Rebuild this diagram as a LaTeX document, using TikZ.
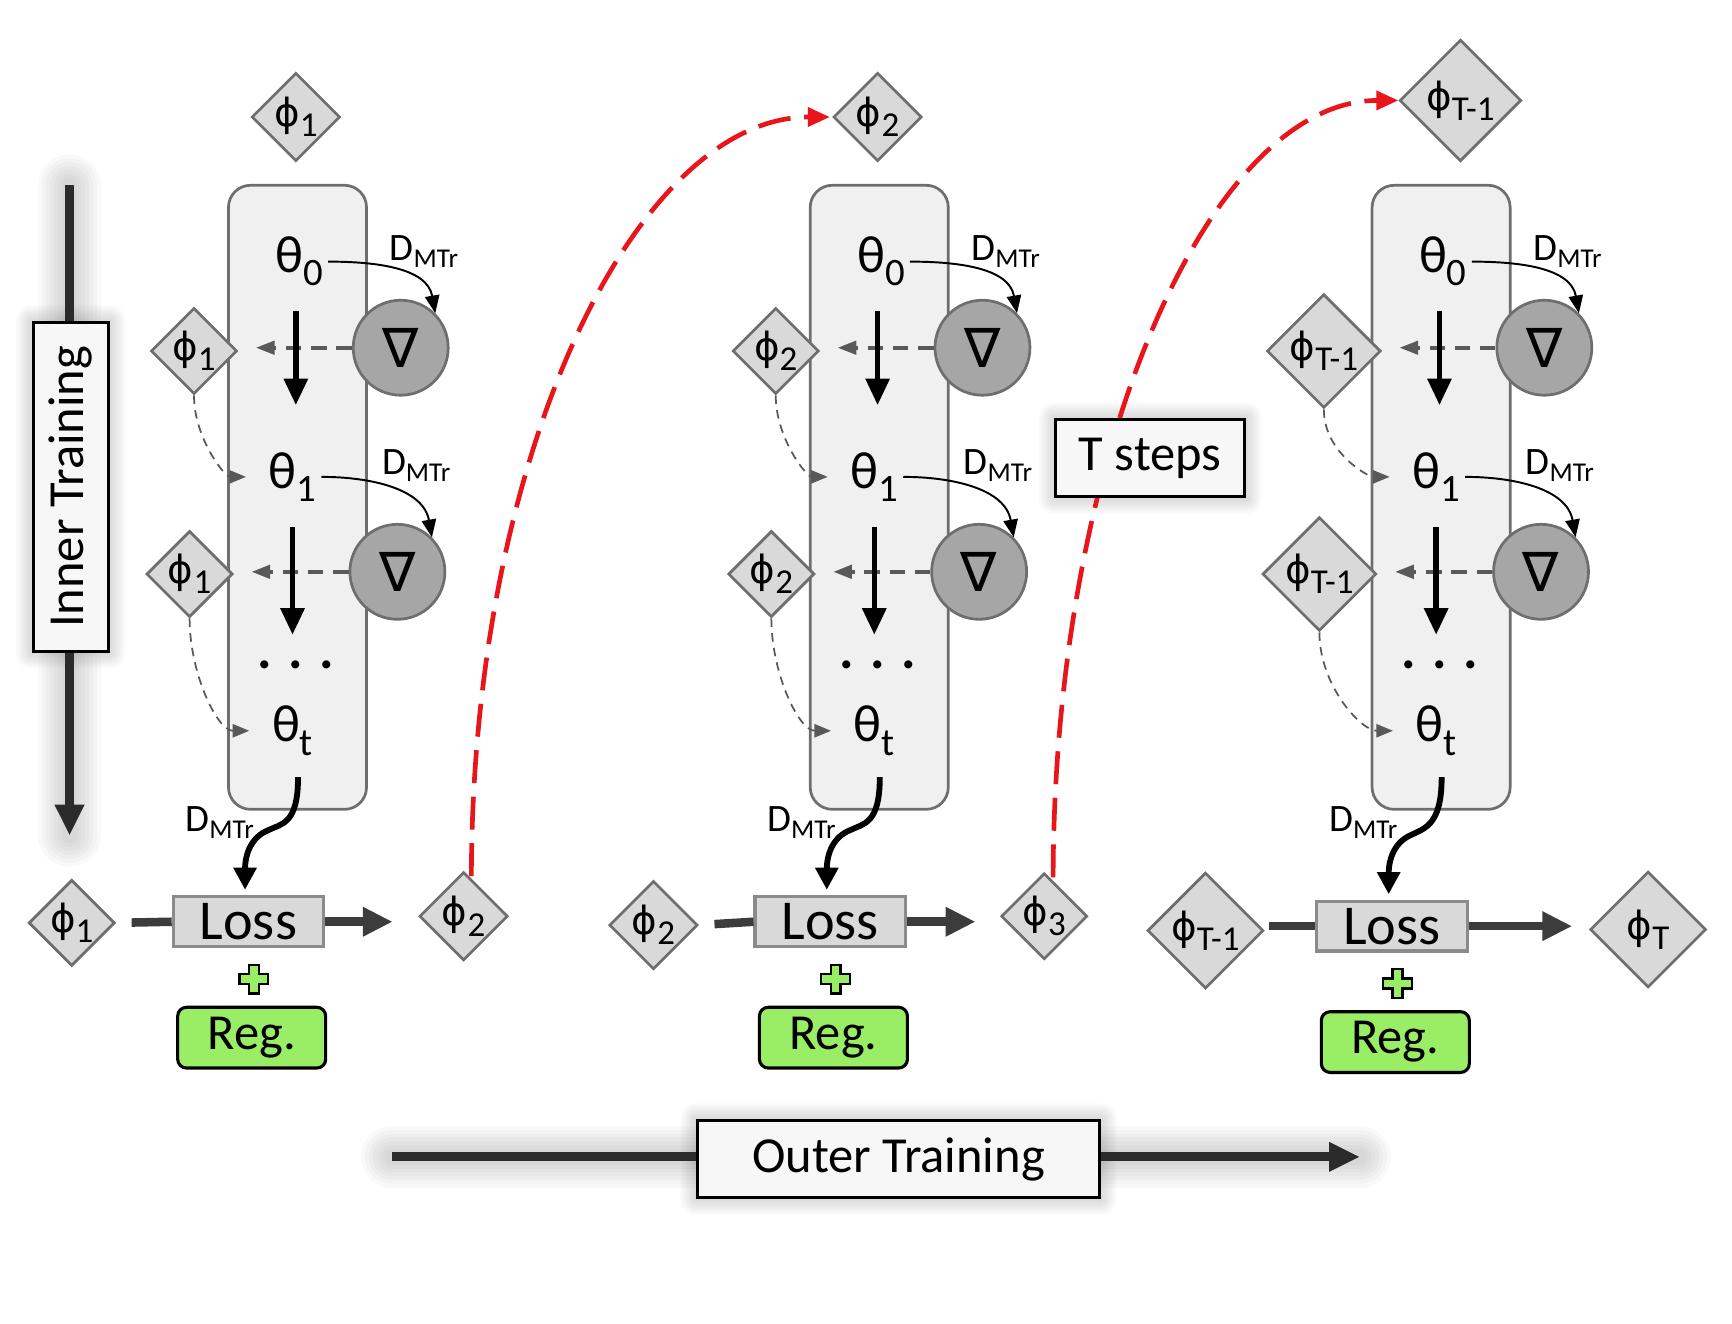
\documentclass[tikz,border=0pt]{standalone}
\usepackage{fontspec}
\setmainfont{Carlito}
\newfontfamily\djv{DejaVu Sans}
\usetikzlibrary{shapes.geometric,arrows.meta,calc}
\pgfdeclarelayer{glowlayer}
\pgfsetlayers{glowlayer,main}

\definecolor{dgray}{HTML}{6E6E6E}
\definecolor{dfill}{HTML}{D9D9D9}
\definecolor{boxfill}{HTML}{F0F0F0}
\definecolor{gcirc}{HTML}{A6A6A6}
\definecolor{regg}{HTML}{99EE66}
\definecolor{dline}{HTML}{3C3C3C}
\definecolor{darr}{HTML}{2B2B2B}
\definecolor{redd}{HTML}{E8161B}
\definecolor{gdash}{HTML}{595959}
\definecolor{lfill}{HTML}{F7F7F7}

\newcommand\ph[1]{{\djv\fontsize{10}{11}\selectfont ϕ}\raisebox{-2.6pt}{\fontsize{9}{9}\selectfont #1}}
\newcommand\tht[1]{θ\raisebox{-3.4pt}{\fontsize{10}{10}\selectfont #1}}
\newcommand\dm{D\raisebox{-1.7pt}{\fontsize{7}{7}\selectfont MTr}}

\tikzset{
 dia/.style={diamond,draw=dgray,fill=dfill,line width=0.7pt,inner sep=0pt,minimum width=#1,minimum height=#1,font=\fontsize{11}{11}\selectfont},
 mainbox/.style={draw=dgray,fill=boxfill,line width=0.7pt,rounded corners=0.2cm,minimum width=1.25cm,minimum height=5.65cm},
 theta/.style={inner sep=0pt,font=\fontsize{13.5}{14}\selectfont},
 dotsn/.style={inner sep=0pt,font=\bfseries\fontsize{14}{14}\selectfont},
 grad/.style={circle,draw=dgray,fill=gcirc,line width=0.7pt,minimum size=0.86cm,inner sep=0pt,font=\djv\fontsize{14}{14}\selectfont},
 dlab/.style={inner sep=0pt,font=\fontsize{10}{10}\selectfont},
 lossbox/.style={draw=dgray!80,fill=dfill,line width=0.8pt,minimum width=1.36cm,minimum height=0.45cm,inner sep=0pt,font=\fontsize{14.5}{14.5}\selectfont},
 regbox/.style={draw=black,fill=regg,line width=0.8pt,rounded corners=0.08cm,minimum width=1.34cm,minimum height=0.55cm,inner sep=0pt,font=\fontsize{13}{13}\selectfont},
 lbox/.style={draw=black,fill=lfill,line width=0.8pt,inner sep=0pt,font=\fontsize{13}{13}\selectfont},
 downarr/.style={black,line width=1.4pt,-{Triangle[length=0.24cm,width=0.21cm]}},
 gdasharr/.style={draw=gdash,line width=1pt,dash pattern=on 4pt off 2.5pt,-{Triangle[length=0.17cm,width=0.12cm]}},
 tdash/.style={draw=gdash,line width=0.45pt,dash pattern=on 2.2pt off 1.6pt,-{Triangle[length=0.15cm,width=0.12cm]}},
 tharr/.style={black,line width=0.5pt,-{Triangle[length=0.16cm,width=0.13cm]}},
 curvy/.style={black,line width=1.5pt,-{Triangle[length=0.2cm,width=0.2cm]}},
 losslink/.style={dline,line width=2.2pt},
 lossarr/.style={dline,line width=2.2pt,-{Triangle[length=0.27cm,width=0.25cm]}},
 reddash/.style={redd,line width=1.2pt,dash pattern=on 8.5pt off 3.5pt,-{Triangle[length=0.2cm,width=0.17cm]}},
 bigarr/.style={darr,line width=2.3pt,-{Triangle[length=0.28cm,width=0.25cm]}},
}

\newcommand\innercol[8]{%
\begin{scope}[shift={(#2,0)}]
\node[mainbox] (#1box) at (269.5,-450.5) {};
\node[dia=#5] (#1top) at (#6,#7) {\ph{#3}};
\node[theta] (#1t0) at (271,-237) {\tht{0}};
\node[theta] (#1t1) at (265,-432) {\tht{1}};
\node[theta] (#1tt) at (265,-662) {\tht{t}};
\node[dotsn] (#1dots) at (268,-602) {. . .};
\node[grad] (#1g0) at (363,-315) {∇};
\node[grad] (#1g1) at (360,-518) {∇};
\node[dia=#4,anchor=east] (#1s0) at (216,-318) {\ph{#3}};
\node[dia=#4,anchor=east] (#1s1) at (212,-520) {\ph{#3}};
\node[dlab] (#1d0) at (384,-228) {\dm};
\node[dlab] (#1d1) at (377,-422) {\dm};
\node[lossbox] (#1loss) at (225,{-835-#8}) {Loss};
\node[regbox] (#1reg) at (228,{-940-#8}) {Reg.};
\node[dlab] (#1d2) at (199,-745) {\dm};
\draw[fill=regg,line width=0.6pt] (230,{-887-#8}) +(-4.5,13) -- +(4.5,13) -- +(4.5,4.5) -- +(13,4.5) -- +(13,-4.5) -- +(4.5,-4.5) -- +(4.5,-13) -- +(-4.5,-13) -- +(-4.5,-4.5) -- +(-13,-4.5) -- +(-13,4.5) -- +(-4.5,4.5) -- cycle;
% gradient feedback (dashed, gray)
\draw[gdasharr] (#1g0.west) -- ($(#1g0.west -| #1box.west)+(26,0)$);
\draw[gdasharr] (#1g1.west) -- ($(#1g1.west -| #1box.west)+(22,0)$);
% update steps
\draw[downarr] ($(#1t0)+(-3,-45)$) -- ($(#1t0)+(-3,-130)$);
\draw[downarr] ($(#1t1)+(0,-45)$) -- ($(#1t1)+(0,-143)$);
% data to gradient
\draw[tharr] ($(#1t0.east)+(4,0)$) to[out=0,in=100] (#1g0.45);
\draw[tharr] ($(#1t1.east)+(4,0)$) to[out=0,in=100] (#1g1.45);
% phi into theta
\draw[tdash,shorten >=0.2cm] (#1s0.south) to[out=-90,in=180] (#1t1.west);
\draw[tdash,shorten >=0.2cm] (#1s1.south) to[out=-90,in=180] (#1tt.west);
% theta_t to loss
\draw[curvy] ($(#1tt)+(5,-42)$) .. controls ($(#1tt)+(5,-85)$) and ($(#1loss.north)+(30,65)$) .. ($(#1loss.north)+(18,59)$) .. controls ($(#1loss.north)+(3,53)$) and ($(#1loss.north)+(-3,38)$) .. ($(#1loss.north)+(-3,5)$);
\end{scope}}

\begin{document}
\begin{tikzpicture}[x=0.01cm,y=0.01cm]
\useasboundingbox (0,0) rectangle (1569,-1199.4);

% inner training axis
\coordinate (itop) at (63,-168);
\coordinate (ibot) at (63,-757);
\draw[bigarr] (itop) -- (ibot);
\node[lbox,rotate=90,minimum width=2.98cm,minimum height=0.68cm] (ibox) at (64,-441) {Inner Training};

% outer training axis
\coordinate (oleft) at (355,-1048);
\coordinate (oright) at (1232,-1048);
\draw[bigarr] (oleft) -- (oright);
\node[lbox,minimum width=3.64cm,minimum height=0.7cm] (obox) at (814,-1050) {Outer Training};

\innercol{A}{0}{1}{0.78cm}{0.8cm}{268}{-106}{0}
\innercol{B}{527}{2}{0.78cm}{0.8cm}{268}{-106}{0}
\innercol{C}{1036}{T-1}{1.03cm}{1.1cm}{287}{-91}{4}

% bottom row
\node[dia=0.78cm] (b1l) at (65,-836) {\ph{1}};
\node[dia=0.8cm] (b1r) at (420,-830) {\ph{2}};
\node[dia=0.8cm] (b2l) at (592,-838) {\ph{2}};
\node[dia=0.78cm] (b2r) at (946,-830) {\ph{3}};
\node[dia=1.05cm] (b3l) at (1092,-843) {\ph{T-1}};
\node[dia=1.05cm] (b3r) at (1493,-842) {\ph{T}};

\draw[losslink,shorten <=0.14cm] (b1l.east) -- (Aloss.west);
\draw[lossarr,shorten >=0.23cm] (Aloss.east) -- (Aloss.east -| b1r.west);
\draw[losslink,shorten <=0.14cm] (b2l.east) -- (Bloss.west);
\draw[lossarr,shorten >=0.22cm] (Bloss.east) -- (Bloss.east -| b2r.west);
\draw[losslink,shorten <=0.04cm] (Closs.west -| b3l.east) -- (Closs.west);
\draw[lossarr,shorten >=0.15cm] (Closs.east) -- (Closs.east -| b3r.west);

% outer updates
\draw[reddash] ($(b1r.north)+(7,-5)$) .. controls ($(b1r.north)+(8,385)$) and ($(Btop.west)+(-175,0)$) .. ($(Btop.west)+(-2,0)$);
\draw[reddash] ($(b2r.north)+(8,-5)$) .. controls ($(b2r.north)+(9,385)$) and ($(Ctop.west)+(-170,0)$) .. (Ctop.west);

\node[lbox,minimum width=1.71cm,minimum height=0.7cm] (tsteps) at (1042,-415) {T steps};

% soft glows
\begin{pgfonlayer}{glowlayer}
\foreach \w in {4pt,6pt,8pt,10pt,12pt,14pt,16pt} {
  \draw[black,opacity=0.025,line width=\w,line cap=round] (itop) -- (ibot);
  \draw[black,opacity=0.025,line width=\w,line cap=round] (oleft) -- (oright);
}
\foreach \s in {2,4,6,8,10,12,14} {
  \fill[black,opacity=0.018,rounded corners=\s*0.01cm] ($(obox.south west)+(-\s,-\s)$) rectangle ($(obox.north east)+(\s,\s)$);
  \fill[black,opacity=0.018,rounded corners=\s*0.01cm] ($(tsteps.south west)+(-\s,-\s)$) rectangle ($(tsteps.north east)+(\s,\s)$);
  \fill[black,opacity=0.018,rounded corners=\s*0.01cm] ($(ibox.north west)+(-\s,-\s)$) rectangle ($(ibox.south east)+(\s,\s)$);
}
\end{pgfonlayer}
\end{tikzpicture}
\end{document}
